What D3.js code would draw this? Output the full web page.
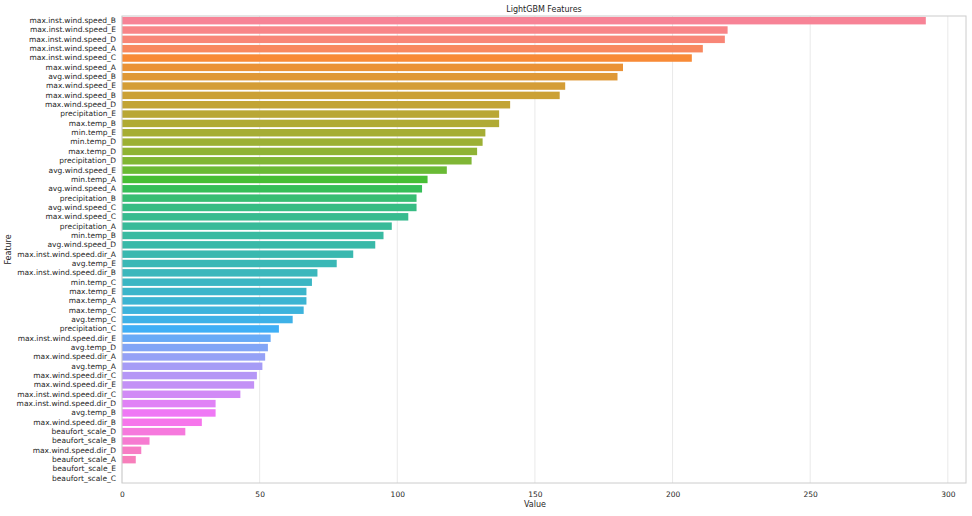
<!DOCTYPE html>
<html>
<head>
<meta charset="utf-8">
<script src="https://cdn.jsdelivr.net/npm/d3@7"></script>
<style>
  html, body { margin: 0; padding: 0; background: #fff; }
  svg { display: block; }
  text { font-family: "DejaVu Sans", sans-serif; fill: #262626; }
</style>
</head>
<body>
<script>
const features = [
  "max.inst.wind.speed_B","max.inst.wind.speed_E","max.inst.wind.speed_D","max.inst.wind.speed_A","max.inst.wind.speed_C",
  "max.wind.speed_A","avg.wind.speed_B","max.wind.speed_E","max.wind.speed_B","max.wind.speed_D",
  "precipitation_E","max.temp_B","min.temp_E","min.temp_D","max.temp_D",
  "precipitation_D","avg.wind.speed_E","min.temp_A","avg.wind.speed_A","precipitation_B",
  "avg.wind.speed_C","max.wind.speed_C","precipitation_A","min.temp_B","avg.wind.speed_D",
  "max.inst.wind.speed.dir_A","avg.temp_E","max.inst.wind.speed.dir_B","min.temp_C","max.temp_E",
  "max.temp_A","max.temp_C","avg.temp_C","precipitation_C","max.inst.wind.speed.dir_E",
  "avg.temp_D","max.wind.speed.dir_A","avg.temp_A","max.wind.speed.dir_C","max.wind.speed.dir_E",
  "max.inst.wind.speed.dir_C","max.inst.wind.speed.dir_D","avg.temp_B","max.wind.speed.dir_B","beaufort_scale_D",
  "beaufort_scale_B","max.wind.speed.dir_D","beaufort_scale_A","beaufort_scale_E","beaufort_scale_C"
];
const values = [
  292, 220, 219, 211, 207,
  182, 180, 161, 159, 141,
  137, 137, 132, 131, 129,
  127, 118, 111, 109, 107,
  107, 104, 98, 95, 92,
  84, 78, 71, 69, 67,
  67, 66, 62, 57, 54,
  53, 52, 51, 49, 48,
  43, 34, 34, 29, 23,
  10, 7, 5, 0, 0
];
const xTicks = [0, 50, 100, 150, 200, 250, 300];
const title = "LightGBM Features";
const xLabel = "Value";
const yLabel = "Feature";

// --- seaborn-style husl palette ---
const M = [[3.2406, -1.5372, -0.4986], [-0.9689, 1.8758, 0.0415], [0.0557, -0.2040, 1.0570]];
const refU = 0.19784, refV = 0.46834, labE = 0.008856, labK = 903.3;
function maxChroma(L, H) {
  const hr = H / 360 * 2 * Math.PI, sinH = Math.sin(hr), cosH = Math.cos(hr);
  const sub1 = Math.pow(L + 16, 3) / 1560896.0;
  const sub2 = sub1 > labE ? sub1 : L / labK;
  let result = Infinity;
  for (const [m1, m2, m3] of M) {
    const top = (0.99915 * m1 + 1.05122 * m2 + 1.14460 * m3) * sub2;
    const rb = 0.86330 * m3 - 0.17266 * m2;
    const lb = 0.12949 * m3 - 0.38848 * m1;
    const bottom = (rb * sinH + lb * cosH) * sub2;
    for (const t of [0, 1]) {
      const C = L * (top - 1.05122 * t) / (bottom + 0.17266 * sinH * t);
      if (C > 0 && C < result) result = C;
    }
  }
  return result;
}
function fInv(t) { return Math.pow(t, 3) > labE ? Math.pow(t, 3) : (116 * t - 16) / labK; }
function fromLinear(c) { return c <= 0.0031308 ? 12.92 * c : 1.055 * Math.pow(c, 1 / 2.4) - 0.055; }
function huslToRgb(H, S, L) {
  const C = maxChroma(L, H) / 100 * S;
  const hr = H / 360 * 2 * Math.PI;
  const U = C * Math.cos(hr), V = C * Math.sin(hr);
  const varY = fInv((L + 16) / 116);
  const varU = U / (13 * L) + refU, varV = V / (13 * L) + refV;
  const Y = varY;
  const X = 0 - (9 * Y * varU) / ((varU - 4) * varV - varU * varV);
  const Z = (9 * Y - 15 * varV * Y - varV * X) / (3 * varV);
  return M.map(r => Math.max(0, Math.min(1, fromLinear(r[0] * X + r[1] * Y + r[2] * Z))));
}
function huslPalette(n, h = 0.01, s = 0.9, l = 0.69) {
  const out = [];
  for (let i = 0; i < n; i++) {
    const hue = (i / n + h) % 1;
    const rgb = huslToRgb(hue * 359, s * 99, l * 99);
    out.push(d3.rgb(rgb[0] * 255, rgb[1] * 255, rgb[2] * 255).formatHex());
  }
  return out;
}
const colors = huslPalette(features.length);

// --- layout ---
const W = 972, H = 516;
const margin = { left: 122, right: 6, top: 16, bottom: 33 };
const svg = d3.select("body").append("svg").attr("width", W).attr("height", H);

const x = d3.scaleLinear().domain([0, d3.max(values) * 1.05]).range([margin.left, W - margin.right]);
const y = d3.scaleBand().domain(features).range([margin.top, H - margin.bottom]).paddingInner(0.2).paddingOuter(0.1);

// grid
svg.append("g").selectAll("line").data(xTicks).join("line")
  .attr("x1", d => x(d)).attr("x2", d => x(d))
  .attr("y1", margin.top).attr("y2", H - margin.bottom)
  .attr("stroke", "#e3e3e3").attr("stroke-width", 0.8);

// bars
svg.append("g").selectAll("rect").data(features).join("rect")
  .attr("x", x(0))
  .attr("y", d => y(d))
  .attr("width", (d, i) => x(values[i]) - x(0))
  .attr("height", y.bandwidth())
  .attr("fill", (d, i) => colors[i]);

// frame
svg.append("rect")
  .attr("x", margin.left).attr("y", margin.top)
  .attr("width", W - margin.right - margin.left).attr("height", H - margin.bottom - margin.top)
  .attr("fill", "none").attr("stroke", "#cccccc").attr("stroke-width", 1);

// x axis
const xAxis = d3.axisBottom(x).tickValues(xTicks).tickSize(0).tickPadding(9);
const gx = svg.append("g").attr("transform", `translate(0,${H - margin.bottom})`).call(xAxis);
gx.select(".domain").remove();
gx.selectAll("text").style("font-size", "7.5px").style("font-family", "DejaVu Sans").attr("fill", "#262626");

// y axis
const yAxis = d3.axisLeft(y).tickSize(0).tickPadding(6);
const gy = svg.append("g").attr("transform", `translate(${margin.left},0)`).call(yAxis);
gy.select(".domain").remove();
gy.selectAll("text").style("font-size", "7.5px").style("font-family", "DejaVu Sans").attr("fill", "#262626");

// labels
svg.append("text").attr("x", (margin.left + W - margin.right) / 2).attr("y", 12)
  .attr("text-anchor", "middle").style("font-size", "8px").text(title);
svg.append("text").attr("x", x(150)).attr("y", 507)
  .attr("text-anchor", "middle").style("font-size", "8px").text(xLabel);
svg.append("text").attr("transform", `translate(11,${(margin.top + H - margin.bottom) / 2}) rotate(-90)`)
  .attr("text-anchor", "middle").style("font-size", "8px").text(yLabel);
</script>
</body>
</html>
